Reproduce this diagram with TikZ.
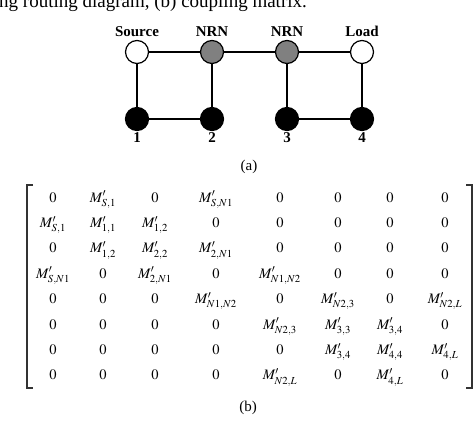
\documentclass[tikz,border=0pt]{standalone}
\usepackage{mathptmx}
\usepackage{fontspec}
\setmainfont{Liberation Serif}
\usetikzlibrary{positioning}

\tikzset{
  ring/.style={circle, draw, line width=1.2pt, minimum size=23pt, inner sep=0pt},
  port/.style={ring, fill=white},
  nrn/.style={ring, fill=gray},
  res/.style={ring, fill=black},
  lbl/.style={font=\fontsize{15}{16}\selectfont\bfseries, inner sep=0pt},
  link/.style={line width=1.2pt},
  entry/.style={font=\fontsize{14.5}{16}\selectfont, inner sep=0pt, anchor=base},
  brk/.style={line width=1.2pt, black!80}
}

\begin{document}
\begin{tikzpicture}[x=1pt,y=-1pt]
\useasboundingbox (0,0) rectangle (474,444);
% caption fragment at the top
\node[anchor=base west, inner sep=0pt, font=\fontsize{19}{20}\selectfont] (cap) at (-1,8) {ng routing diagram, (b) coupling matrix.};

% (a) routing diagram
\node[port] (S) at (137,52) {};
\node[nrn] (N1) at (212,52) {};
\node[nrn] (N2) at (287,52) {};
\node[port] (L) at (362,52) {};
\node[res] (R1) at (137,119) {};
\node[res] (R2) at (212,119) {};
\node[res] (R3) at (287,119) {};
\node[res] (R4) at (362,119) {};
\node[lbl, above=3pt of S] (tS) {Source};
\node[lbl, above=3pt of N1] (tN1) {NRN};
\node[lbl, above=3pt of N2] (tN2) {NRN};
\node[lbl, above=3pt of L] (tL) {Load};
\node[lbl, below=1pt of R1] (t1) {1};
\node[lbl, below=1pt of R2] (t2) {2};
\node[lbl, below=1pt of R3] (t3) {3};
\node[lbl, below=1pt of R4] (t4) {4};
\draw[link] (S) -- (N1);
\draw[link] (N1) -- (N2);
\draw[link] (N2) -- (L);
\draw[link] (S) -- (R1);
\draw[link] (N1) -- (R2);
\draw[link] (N2) -- (R3);
\draw[link] (L) -- (R4);
\draw[link] (R1) -- (R2);
\draw[link] (R3) -- (R4);
\node[font=\fontsize{15}{16}\selectfont, inner sep=0pt] (capa) at (249,167) {(a)};

% (b) coupling matrix
\foreach [count=\r] \row in {
  {0,{M'_{S,1}},0,{M'_{S,N1}},0,0,0,0},
  {{M'_{S,1}},{M'_{1,1}},{M'_{1,2}},0,0,0,0,0},
  {0,{M'_{1,2}},{M'_{2,2}},{M'_{2,N1}},0,0,0,0},
  {{M'_{S,N1}},0,{M'_{2,N1}},0,{M'_{N1,N2}},0,0,0},
  {0,0,0,{M'_{N1,N2}},0,{M'_{N2,3}},0,{M'_{N2,L}}},
  {0,0,0,0,{M'_{N2,3}},{M'_{3,3}},{M'_{3,4}},0},
  {0,0,0,0,0,{M'_{3,4}},{M'_{4,4}},{M'_{4,L}}},
  {0,0,0,0,{M'_{N2,L}},0,{M'_{4,L}},0}} {
  \foreach [count=\c] \e in \row {
    \pgfmathsetmacro\cx{{53,103,155,216,280,338,390,445}[\c-1]}
    \node[entry] (m-\r-\c) at (\cx,202+25.4*\r-25.4) {$\e$};
  }
}
\draw[brk] (33,185) -| (27,388) -- (33,388);
\draw[brk] (466,185) -| (472,388) -- (466,388);
\node[font=\fontsize{15}{16}\selectfont, inner sep=0pt] (capb) at (248,408) {(b)};
\end{tikzpicture}
\end{document}
